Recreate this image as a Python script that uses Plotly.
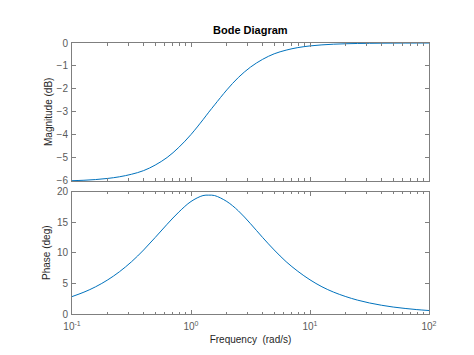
import plotly.graph_objects as go

freq = [0.1, 0.126, 0.158, 0.2, 0.25, 0.316, 0.4, 0.5, 0.63, 0.79, 1.0, 1.26, 1.41, 1.58, 2.0, 2.5,
        3.16, 4.0, 5.0, 6.3, 7.9, 10.0, 12.6, 15.8, 20.0, 25.0, 31.6, 40.0, 50.0, 63.0, 79.0, 100.0]
magnitude_db = [-5.99, -5.97, -5.94, -5.89, -5.82, -5.71, -5.55, -5.31, -4.98, -4.54, -3.98, -3.34, -3.01,
                -2.69, -2.04, -1.50, -1.05, -0.71, -0.47, -0.31, -0.20, -0.127, -0.081, -0.052, -0.032,
                -0.021, -0.013, -0.008, -0.005, -0.003, -0.002, -0.001]
phase_deg = [2.85, 3.58, 4.46, 5.60, 6.91, 8.55, 10.49, 12.53, 14.7, 16.7, 18.43, 19.4, 19.47, 19.4, 18.43,
             16.9, 14.8, 12.53, 10.49, 8.57, 7.0, 5.60, 4.46, 3.58, 2.85, 2.28, 1.81, 1.43, 1.14, 0.91,
             0.72, 0.57]

x_tickvals = [0.1, 1, 10, 100]
x_ticktext = ["10<sup>-1</sup>", "10<sup>0</sup>", "10<sup>1</sup>", "10<sup>2</sup>"]
mag_ticks = [0, -1, -2, -3, -4, -5, -6]
phase_ticks = [0, 5, 10, 15, 20]

line_color = "#0072BD"
axis_color = "#7f7f7f"
font_color = "#5a5a5a"
title_color = "#262626"
FONT = "Liberation Sans, Arial, sans-serif"

fig = go.Figure()
fig.add_trace(go.Scatter(x=freq, y=magnitude_db, mode="lines", line=dict(color=line_color, width=1, shape="spline"),
                         xaxis="x", yaxis="y", showlegend=False))
fig.add_trace(go.Scatter(x=freq, y=phase_deg, mode="lines", line=dict(color=line_color, width=1, shape="spline"),
                         xaxis="x2", yaxis="y2", showlegend=False))

common_x = dict(type="log", range=[-1, 2], tickvals=x_tickvals, ticktext=x_ticktext,
                ticks="inside", ticklen=4, tickcolor=axis_color, showline=True, linecolor=axis_color,
                linewidth=1, mirror="ticks", showgrid=False, zeroline=False, ticklabelstandoff=3,
                minor=dict(ticks="inside", ticklen=2.5, tickcolor=axis_color, dtick="D1", showgrid=False),
                tickfont=dict(family=FONT, size=10, color=font_color))
common_y = dict(ticks="inside", ticklen=4, tickcolor=axis_color, showline=True, linecolor=axis_color,
                linewidth=1, mirror="ticks", showgrid=False, zeroline=False, ticklabelstandoff=1,
                tickfont=dict(family=FONT, size=10, color=font_color))

TOP_DOMAIN = [0.491, 1]
BOT_DOMAIN = [0, 0.4505]

fig.update_layout(
    width=466, height=347,
    margin=dict(l=64, r=45, t=35, b=31),
    paper_bgcolor="white", plot_bgcolor="white",
    font=dict(family=FONT, size=10, color=font_color),
    xaxis=dict(**common_x, domain=[0, 1], anchor="y", showticklabels=False),
    yaxis=dict(**common_y, domain=TOP_DOMAIN, range=[-6, 0], tickvals=mag_ticks, anchor="x"),
    xaxis2=dict(**common_x, domain=[0, 1], anchor="y2",
                title=dict(text="Frequency\u00a0\u00a0(rad/s)", font=dict(family=FONT, size=10, color=title_color), standoff=4)),
    yaxis2=dict(**common_y, domain=BOT_DOMAIN, range=[0, 20], tickvals=phase_ticks, anchor="x2"),
    annotations=[
        dict(text="<b>Bode Diagram</b>", x=0.5, y=1, xref="paper", yref="paper",
             xanchor="center", yanchor="bottom", yshift=5, showarrow=False,
             font=dict(family=FONT, size=11, color="black")),
        dict(text="Magnitude (dB)", x=0, y=sum(TOP_DOMAIN) / 2, xref="paper", yref="paper",
             xanchor="center", yanchor="middle", xshift=-23, textangle=-90, showarrow=False,
             font=dict(family=FONT, size=10, color=title_color)),
        dict(text="Phase (deg)", x=0, y=sum(BOT_DOMAIN) / 2, xref="paper", yref="paper",
             xanchor="center", yanchor="middle", xshift=-25, textangle=-90, showarrow=False,
             font=dict(family=FONT, size=10, color=title_color)),
    ],
)

fig.write_html("out.html")
